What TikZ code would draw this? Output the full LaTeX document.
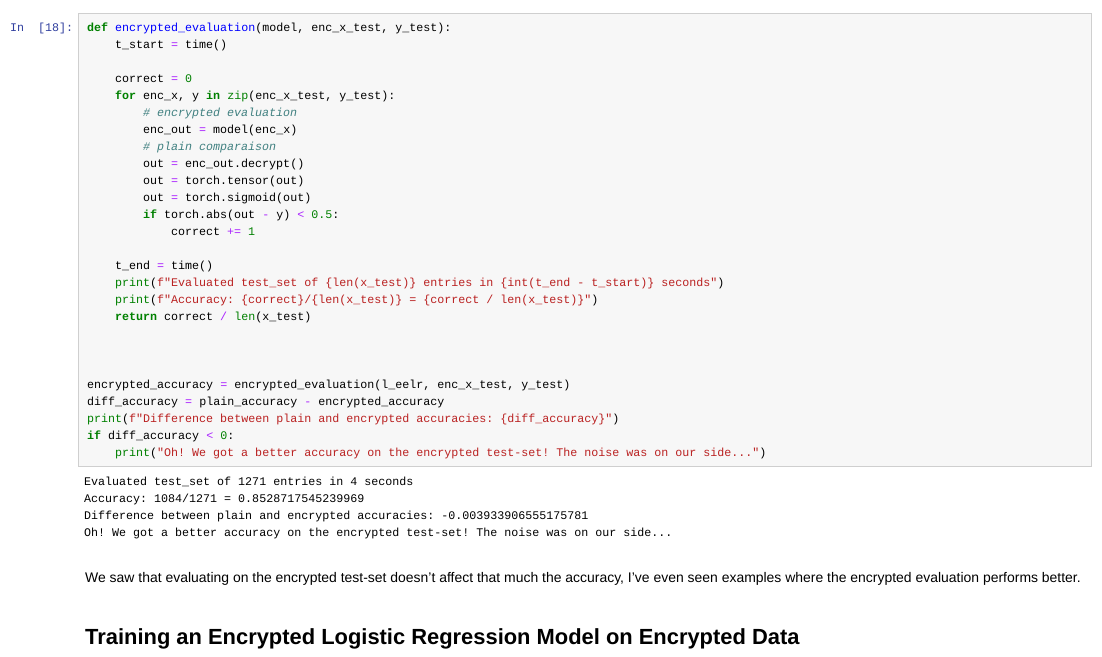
\documentclass[tikz,border=0pt]{standalone}
\usepackage{fontspec}
\setmonofont{Liberation Mono}
\setmainfont{Liberation Sans}
\definecolor{kwc}{HTML}{008000}
\definecolor{fnc}{HTML}{0000FF}
\definecolor{opc}{HTML}{AA22FF}
\definecolor{stc}{HTML}{BA2121}
\definecolor{cmc}{HTML}{408080}
\definecolor{prc}{HTML}{303F9F}
\newcommand{\kw}[1]{\textcolor{kwc}{\bfseries #1}}
\newcommand{\bi}[1]{\textcolor{kwc}{#1}}
\newcommand{\fn}[1]{\textcolor{fnc}{#1}}
\newcommand{\op}[1]{\textcolor{opc}{#1}}
\newcommand{\st}[1]{\textcolor{stc}{#1}}
\newcommand{\cm}[1]{\textcolor{cmc}{\itshape #1}}
\tikzset{code/.style={anchor=base west,inner sep=0pt,font=\fontsize{11.67}{14}\ttfamily},
prose/.style={anchor=base west,inner sep=0pt,font=\fontsize{13.95}{16}\selectfont}}
\begin{document}
\begin{tikzpicture}[x=1pt,y=-1pt]
\useasboundingbox[fill=white] (0,0) rectangle (1102,656);
\draw[fill={rgb,255:red,247;green,247;blue,247},draw={rgb,255:red,207;green,207;blue,207}] (78,13) rectangle (1091,466);
\node[code,text=prc] (p) at (10,31) {In\ \ [18]:};
\node[code] (a1) at (87,31) {\kw{def} \fn{encrypted\_evaluation}(model, enc\_x\_test, y\_test):};
\node[code] (a2) at (115,48) {t\_start \op{=} time()};
\node[code] (a3) at (115,82) {correct \op{=} \bi{0}};
\node[code] (a4) at (115,99) {\kw{for} enc\_x, y \kw{in} \bi{zip}(enc\_x\_test, y\_test):};
\node[code] (a5) at (143,116) {\cm{\# encrypted evaluation}};
\node[code] (a6) at (143,133) {enc\_out \op{=} model(enc\_x)};
\node[code] (a7) at (143,150) {\cm{\# plain comparaison}};
\node[code] (a8) at (143,167) {out \op{=} enc\_out.decrypt()};
\node[code] (a9) at (143,184) {out \op{=} torch.tensor(out)};
\node[code] (a10) at (143,201) {out \op{=} torch.sigmoid(out)};
\node[code] (a11) at (143,218) {\kw{if} torch.abs(out \op{-} y) \op{<} \bi{0.5}:};
\node[code] (a12) at (171,235) {correct \op{+=} \bi{1}};
\node[code] (a13) at (115,269) {t\_end \op{=} time()};
\node[code] (a14) at (115,286) {\bi{print}(\st{f"Evaluated test\_set of \{len(x\_test)\} entries in \{int(t\_end - t\_start)\} seconds"})};
\node[code] (a15) at (115,303) {\bi{print}(\st{f"Accuracy: \{correct\}/\{len(x\_test)\} = \{correct / len(x\_test)\}"})};
\node[code] (a16) at (115,320) {\kw{return} correct \op{/} \bi{len}(x\_test)};
\node[code] (b1) at (87,388) {encrypted\_accuracy \op{=} encrypted\_evaluation(l\_eelr, enc\_x\_test, y\_test)};
\node[code] (b2) at (87,405) {diff\_accuracy \op{=} plain\_accuracy \op{-} encrypted\_accuracy};
\node[code] (b3) at (87,422) {\bi{print}(\st{f"Difference between plain and encrypted accuracies: \{diff\_accuracy\}"})};
\node[code] (b4) at (87,439) {\kw{if} diff\_accuracy \op{<} \bi{0}:};
\node[code] (b5) at (115,456) {\bi{print}(\st{"Oh! We got a better accuracy on the encrypted test-set! The noise was on our side..."})};
\node[code] (o1) at (84,485) {Evaluated test\_set of 1271 entries in 4 seconds};
\node[code] (o2) at (84,502) {Accuracy: 1084/1271 = 0.8528717545239969};
\node[code] (o3) at (84,519) {Difference between plain and encrypted accuracies: -0.003933906555175781};
\node[code] (o4) at (84,536) {Oh! We got a better accuracy on the encrypted test-set! The noise was on our side...};
\node[prose] (t1) at (85,582) {We saw that evaluating on the encrypted test-set doesn't affect that much the accuracy, I've even seen examples where the encrypted evaluation performs better.};
\node[prose,font=\fontsize{21.9}{26}\selectfont\bfseries] (h1) at (85,644) {Training an Encrypted Logistic Regression Model on Encrypted Data};
\end{tikzpicture}
\end{document}
